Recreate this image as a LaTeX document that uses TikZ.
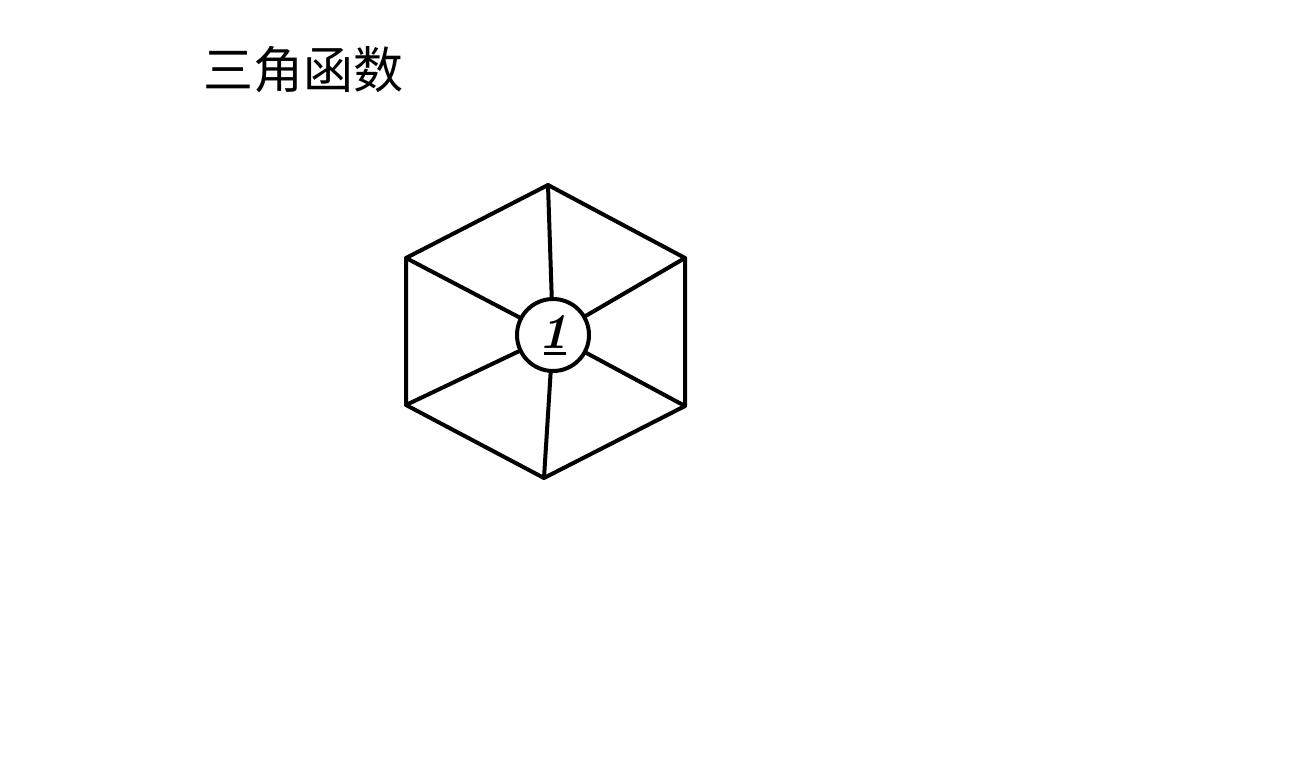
\documentclass[tikz,border=0pt]{standalone}
\usepackage{fontspec}
\newfontfamily\cjk{Noto Sans CJK SC}
\usetikzlibrary{positioning}
\begin{document}
\begin{tikzpicture}[x=1pt, y=-1pt, edg/.style={line width=4pt, line join=round, line cap=round}, ctr/.style={draw, circle, line width=4pt, minimum size=72pt, inner sep=0pt}]
\useasboundingbox (0,0) rectangle (1294,760);
\node[inner sep=0pt] (title) at (303,70) {\cjk\fontsize{50}{54}\selectfont 三角函数};
\foreach \n/\x/\y in {0/548/185,1/685/258,2/685/406,3/544/478,4/406/405,5/406/258}{\coordinate (v\n) at (\x,\y);}
\node[ctr] (c) at (553,335) {\fontsize{50}{54}\selectfont\bfseries\itshape 1\llap{\rule[-6pt]{22pt}{2.5pt}\hspace{2pt}}};
\draw[edg] (v0) -- (v1) -- (v2) -- (v3) -- (v4) -- (v5) -- cycle;
\foreach \n in {0,...,5}{\draw[edg] (c) -- (v\n);}
\end{tikzpicture}
\end{document}
